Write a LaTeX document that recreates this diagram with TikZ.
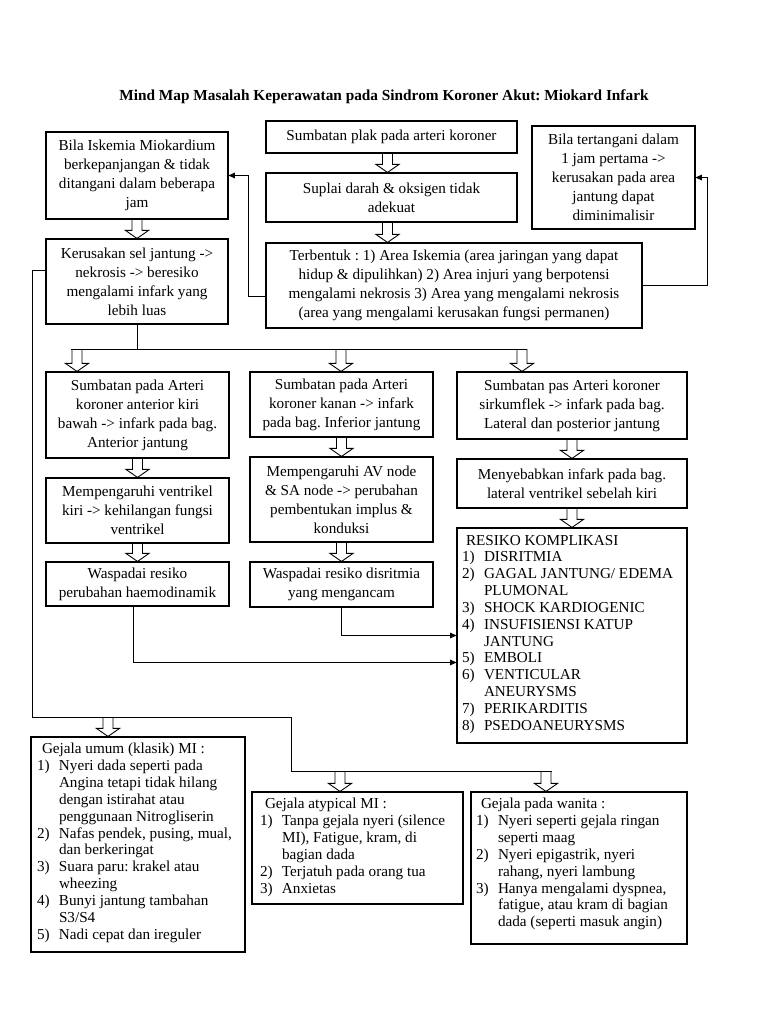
\documentclass[tikz,border=0pt]{standalone}
\usepackage{fontspec}
\setmainfont{Liberation Serif}
\usetikzlibrary{calc,arrows.meta}
\frenchspacing
\newdimen\pxu \pxu=0.79pt
\newcommand\itm[2]{\makebox[22\pxu][l]{#1}#2\par}
\newcommand\cnt[1]{\hspace*{22\pxu}#1\par}
\newcommand\lhead[1]{\hspace*{5\pxu}#1\par}
\newcommand\lstart[2]{\leftskip=#1\pxu\relax\vspace*{#2pt}}
\newcommand\harrow[2]{%
  \path #1 coordinate (ha-t) #2 coordinate (ha-b);
  \draw[hollow] ($(ha-t)+(-5,0)$) -- ($(ha-t |- ha-b)+(-5,-8)$) -- ($(ha-t |- ha-b)+(-11.5,-8)$)
     -- (ha-t |- ha-b) -- ($(ha-t |- ha-b)+(11.5,-8)$) -- ($(ha-t |- ha-b)+(5,-8)$) -- ($(ha-t)+(5,0)$);}
\begin{document}
\begin{tikzpicture}[x=0.79pt,y=-0.79pt,
  box/.style={draw, line width=0.9pt, inner sep=0pt, align=center, font=\fontsize{12}{15}\selectfont},
  lbox/.style={draw, line width=0.9pt, inner sep=0pt, font=\fontsize{12}{13.3}\selectfont},
  conn/.style={line width=0.7pt},
  tip/.style={-{Triangle[length=5pt,width=4.5pt]}},
  hollow/.style={line width=0.7pt, line join=miter},
  sz/.style 2 args={minimum width=#1*0.79pt, minimum height=#2*0.79pt}]
\useasboundingbox[fill=white] (0,0) rectangle (768,1024);

\node[font=\bfseries\fontsize{12.1}{14}\selectfont] (title) at (384,97)
  {Mind Map Masalah Keperawatan pada Sindrom Koroner Akut: Miokard Infark};

% top row
\node[box,sz={182}{87}] (A) at (137,175.5) {Bila Iskemia Miokardium\\ berkepanjangan \& tidak\\ ditangani dalam beberapa\\ jam};
\node[box,sz={182}{85}] (B) at (137,281.5) {Kerusakan sel jantung ->\\ nekrosis -> beresiko\\ mengalami infark yang\\ lebih luas};
\node[box,sz={251}{32}] (C) at (391.5,137) {Sumbatan plak pada arteri koroner};
\node[box,sz={251}{49}] (D) at (391.5,197.5) {Suplai darah \& oksigen tidak\\ adekuat};
\node[box,sz={376}{85}] (E) at (454,285.5) {Terbentuk : 1) Area Iskemia (area jaringan yang dapat\\ hidup \& dipulihkan) 2) Area injuri yang berpotensi\\ mengalami nekrosis 3) Area yang mengalami nekrosis\\ (area yang mengalami kerusakan fungsi permanen)};
\node[box,sz={163}{103}] (F) at (613.5,177.5) {Bila tertangani dalam\\ 1 jam pertama ->\\ kerusakan pada area\\ jantung dapat\\ diminimalisir};

% three columns
\node[box,sz={183}{86}] (J) at (137.5,415) {Sumbatan pada Arteri\\ koroner anterior kiri\\ bawah -> infark pada bag.\\ Anterior jantung};
\node[box,sz={183}{65}] (K) at (137.5,510.5) {Mempengaruhi ventrikel\\ kiri -> kehilangan fungsi\\ ventrikel};
\node[box,sz={183}{44}] (L) at (137.5,584) {Waspadai resiko\\ perubahan haemodinamik};
\node[box,sz={183}{65}] (M) at (341.5,404.5) {Sumbatan pada Arteri\\ koroner kanan -> infark\\ pada bag. Inferior jantung};
\node[box,sz={183}{85}] (N) at (341.5,499.5) {Mempengaruhi AV node\\ \& SA node -> perubahan\\ pembentukan implus \&\\ konduksi};
\node[box,sz={183}{45}] (O) at (341.5,584.5) {Waspadai resiko disritmia\\ yang mengancam};
\node[box,sz={230}{67}] (P) at (572,405.5) {Sumbatan pas Arteri koroner\\ sirkumflek -> infark pada bag.\\ Lateral dan posterior jantung};
\node[box,sz={230}{49}] (Q) at (572,483.5) {Menyebabkan infark pada bag.\\ lateral ventrikel sebelah kiri};
\node[lbox] (R) at (572,635.5) {\begin{minipage}[c][215\pxu][t]{230\pxu}\lstart{5}{5.5}%
  \hspace*{4\pxu}RESIKO KOMPLIKASI\par
  \itm{1)}{DISRITMIA}
  \itm{2)}{GAGAL JANTUNG/ EDEMA}
  \cnt{PLUMONAL}
  \itm{3)}{SHOCK KARDIOGENIC}
  \itm{4)}{INSUFISIENSI KATUP}
  \cnt{JANTUNG}
  \itm{5)}{EMBOLI}
  \itm{6)}{VENTICULAR}
  \cnt{ANEURYSMS}
  \itm{7)}{PERIKARDITIS}
  \itm{8)}{PSEDOANEURYSMS}
\end{minipage}};

% bottom lists
\node[lbox] (G) at (138,844.5) {\begin{minipage}[c][215\pxu][t]{214\pxu}\lstart{6}{5}%
  \lhead{Gejala umum (klasik) MI :}
  \itm{1)}{Nyeri dada seperti pada}
  \cnt{Angina tetapi tidak hilang}
  \cnt{dengan istirahat atau}
  \cnt{penggunaan Nitrogliserin}
  \itm{2)}{Nafas pendek, pusing, mual,}
  \cnt{dan berkeringat}
  \itm{3)}{Suara paru: krakel atau}
  \cnt{wheezing}
  \itm{4)}{Bunyi jantung tambahan}
  \cnt{S3/S4}
  \itm{5)}{Nadi cepat dan ireguler}
\end{minipage}};
\node[lbox] (H) at (357.5,848) {\begin{minipage}[c][112\pxu][t]{211\pxu}\lstart{8}{5}%
  \lhead{Gejala atypical MI :}
  \itm{1)}{Tanpa gejala nyeri (silence}
  \cnt{MI), Fatigue, kram, di}
  \cnt{bagian dada}
  \itm{2)}{Terjatuh pada orang tua}
  \itm{3)}{Anxietas}
\end{minipage}};
\node[lbox] (I) at (579,868) {\begin{minipage}[c][152\pxu][t]{216\pxu}\lstart{5}{5}%
  \lhead{Gejala pada wanita :}
  \itm{1)}{Nyeri seperti gejala ringan}
  \cnt{seperti maag}
  \itm{2)}{Nyeri epigastrik, nyeri}
  \cnt{rahang, nyeri lambung}
  \itm{3)}{Hanya mengalami dyspnea,}
  \cnt{fatigue, atau kram di bagian}
  \cnt{dada (seperti masuk angin)}
\end{minipage}};

% helper coordinates
\coordinate (hl) at (71,349);
\coordinate (hr) at (527,349);
\coordinate (s1) at (77,349);
\coordinate (s2) at (341,349);
\coordinate (s3) at (522,349);
\coordinate (bl) at (32,717);
\coordinate (br) at (291,771);
\coordinate (be) at (552,771);
\coordinate (g1) at (108,717);
\coordinate (g2) at (340,771);
\coordinate (g3) at (546,771);

% connectors
\draw[conn,tip] (E.east) -- ++(65,0) |- (F.east);
\draw[conn,tip] ($(E.west)+(0,11)$) -| ($(A.east)+(20,0)$) -- (A.east);
\draw[conn] (B.south) -- (B.south |- hl);
\draw[conn] (hl) -- (hr);
\draw[conn] ($(B.west)+(0,-11)$) -| (bl) -| (br) -- (be);
\draw[conn,tip] (O.south) |- (R.west);
\draw[conn,tip] ($(L.south)+(-4,0)$) |- ($(R.west)+(0,27)$);

% hollow arrows
\harrow{(A.south)}{(B.north)}
\harrow{($(C.south)+(-4,0)$)}{(D.north)}
\harrow{($(D.south)+(-4,0)$)}{(E.north)}
\harrow{(s1)}{(J.north)}
\harrow{(s2)}{(M.north)}
\harrow{(s3)}{(P.north)}
\harrow{(J.south)}{(K.north)}
\harrow{(K.south)}{(L.north)}
\harrow{(M.south)}{(N.north)}
\harrow{(N.south)}{(O.north)}
\harrow{(P.south)}{(Q.north)}
\harrow{(Q.south)}{(R.north)}
\harrow{(g1)}{(G.north)}
\harrow{(g2)}{(H.north)}
\harrow{(g3)}{(I.north)}
\end{tikzpicture}
\end{document}
